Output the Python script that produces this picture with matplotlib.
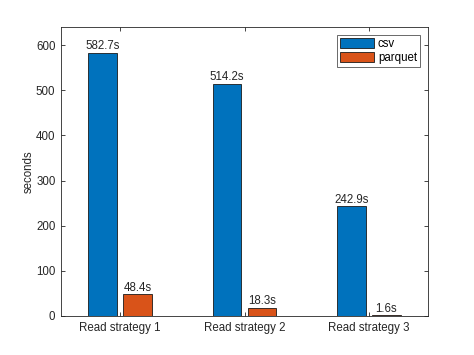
import matplotlib.pyplot as plt
import numpy as np

categories = ["Read strategy 1", "Read strategy 2", "Read strategy 3"]
csv_times = [582.7, 514.2, 242.9]
parquet_times = [48.4, 18.3, 1.6]

plt.rcParams["font.family"] = ["Liberation Sans", "DejaVu Sans"]
plt.rcParams["font.size"] = 8.3

fig = plt.figure(figsize=(4.74, 3.55), dpi=100)
ax = fig.add_axes([0.1287, 0.1099, 0.7743, 0.8140])

x = np.arange(1, len(categories) + 1)
width = 0.23
off = 0.14

b1 = ax.bar(x - off, csv_times, width, color="#0072BD", edgecolor="#1a1a1a", linewidth=0.6, label="csv")
b2 = ax.bar(x + off, parquet_times, width, color="#D95319", edgecolor="#1a1a1a", linewidth=0.6, label="parquet")

for bars, vals in [(b1, csv_times), (b2, parquet_times)]:
    for rect, v in zip(bars, vals):
        ax.text(rect.get_x() + rect.get_width() / 2, v + 1, f"{v:.1f}s",
                ha="center", va="bottom", fontsize=8.3, color="#262626")

ax.set_xlim(0.525, 3.475)
ax.set_ylim(0, 640)
ax.set_xticks(x)
ax.set_xticklabels(categories)
ax.set_yticks(range(0, 700, 100))
ax.set_ylabel("seconds", color="#262626", labelpad=1)

for s in ax.spines.values():
    s.set_color("#262626")
    s.set_linewidth(0.6)
ax.tick_params(direction="in", top=True, right=True, length=3, width=0.6,
               colors="#262626", labelcolor="#262626", pad=4)

leg = ax.legend(loc="upper right", fancybox=False, edgecolor="#262626",
                fontsize=8.3, handlelength=3.0, handleheight=1.0,
                borderaxespad=0.7, labelspacing=0.15, handletextpad=0.3,
                borderpad=0.25)
leg.get_frame().set_linewidth(0.6)

fig.savefig("out.png", dpi=100)
